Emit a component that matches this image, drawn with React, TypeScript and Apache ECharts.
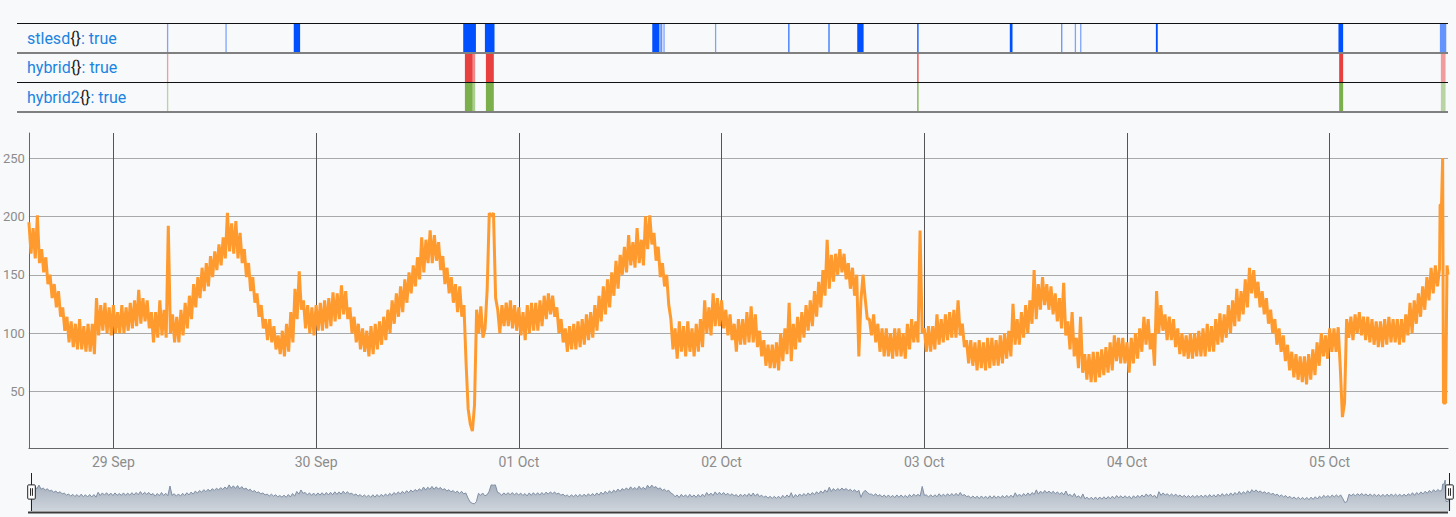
import React, { useEffect, useRef } from 'react';
import * as echarts from 'echarts';

// ---------- data ----------
const rangeStart = '2023-09-28 14:00';
const rangeEnd = '2023-10-05 14:00';
const stepMinutes = 30; // one reading pair per 30 minutes

// upper edge of the noisy band, read every 30 minutes from rangeStart
const trafficUpper = [
  195, 190, 201, 172, 165, 150, 142, 136, 122, 114,
  110, 108, 112, 106, 108, 108, 130, 124, 126, 122,
  124, 118, 124, 122, 126, 128, 137, 130, 128, 118,
  118, 128, 120, 192, 116, 114, 120, 126, 132, 142,
  148, 156, 160, 166, 170, 176, 182, 203, 194, 196,
  186, 172, 160, 148, 134, 124, 112, 112, 106, 98,
  102, 108, 118, 138, 153, 128, 124, 122, 124, 126,
  128, 130, 135, 134, 141, 136, 122, 114, 108, 104,
  102, 106, 108, 110, 114, 120, 128, 134, 140, 146,
  152, 158, 165, 182, 180, 188, 184, 178, 166, 156,
  148, 142, 140, 124, 35, 16, 120, 123, 104, 203,
  203, 120, 124, 126, 128, 124, 122, 118, 124, 126,
  126, 128, 132, 134, 132, 122, 112, 104, 106, 108,
  110, 112, 116, 118, 124, 132, 140, 146, 152, 162,
  167, 174, 184, 178, 190, 180, 200, 201, 186, 174,
  160, 150, 112, 104, 110, 106, 110, 104, 108, 112,
  128, 122, 134, 130, 128, 120, 116, 108, 112, 112,
  118, 123, 116, 102, 94, 90, 90, 92, 100, 104,
  126, 108, 114, 118, 124, 128, 136, 144, 154, 180,
  167, 168, 172, 168, 160, 156, 150, 128, 130, 112,
  116, 108, 104, 104, 100, 104, 104, 100, 108, 112,
  110, 188, 104, 106, 106, 116, 112, 116, 118, 120,
  128, 108, 94, 94, 92, 94, 92, 96, 96, 94,
  98, 100, 102, 125, 112, 118, 124, 128, 154, 142,
  148, 142, 140, 134, 130, 143, 110, 118, 96, 114,
  82, 82, 84, 84, 86, 88, 92, 98, 96, 96,
  92, 96, 100, 104, 114, 112, 100, 136, 124, 116,
  114, 112, 104, 100, 98, 100, 100, 102, 104, 108,
  106, 112, 117, 116, 124, 128, 138, 136, 146, 156,
  154, 144, 136, 130, 120, 112, 104, 98, 90, 84,
  82, 80, 80, 82, 86, 92, 100, 98, 104, 104,
  105, 28, 112, 114, 116, 118, 114, 114, 112, 110,
  110, 112, 114, 112, 112, 112, 116, 126, 128, 134,
  140, 148, 156, 158,
];

// lower edge of the band, read 15 minutes after each upper reading
const trafficLower = [
  168, 164, 160, 152, 142, 130, 122, 114, 102, 92,
  88, 86, 86, 84, 84, 82, 98, 102, 100, 98,
  100, 100, 100, 102, 104, 106, 108, 110, 104, 92,
  96, 98, 96, 100, 92, 92, 98, 104, 112, 122,
  130, 136, 140, 148, 154, 158, 164, 170, 168, 164,
  160, 148, 136, 126, 114, 104, 94, 92, 86, 82,
  80, 84, 92, 112, 120, 104, 100, 98, 102, 102,
  104, 106, 110, 112, 116, 112, 100, 92, 86, 84,
  80, 82, 86, 90, 94, 100, 108, 114, 118, 126,
  134, 140, 146, 152, 160, 160, 162, 154, 142, 134,
  126, 118, 114, 75, 22, 38, 100, 96, 137, 200,
  130, 100, 106, 106, 104, 102, 98, 94, 100, 102,
  102, 106, 112, 116, 114, 100, 92, 84, 86, 86,
  88, 90, 94, 96, 102, 110, 116, 122, 132, 138,
  150, 152, 158, 156, 160, 158, 172, 176, 162, 148,
  140, 124, 86, 78, 84, 80, 84, 80, 84, 88,
  100, 98, 106, 106, 104, 98, 94, 84, 90, 90,
  92, 92, 88, 80, 72, 70, 70, 68, 76, 82,
  76, 86, 92, 96, 102, 106, 114, 122, 132, 138,
  144, 150, 152, 146, 138, 132, 80, 150, 112, 98,
  92, 84, 80, 80, 78, 80, 80, 78, 86, 92,
  92, 100, 84, 84, 86, 90, 92, 94, 96, 96,
  98, 88, 74, 72, 68, 70, 68, 70, 72, 72,
  74, 78, 80, 90, 90, 96, 100, 108, 112, 120,
  124, 120, 116, 110, 104, 98, 86, 80, 70, 66,
  60, 58, 58, 62, 64, 66, 68, 76, 74, 74,
  66, 74, 78, 84, 90, 86, 72, 100, 102, 94,
  94, 88, 82, 80, 78, 78, 80, 80, 80, 84,
  84, 90, 92, 96, 100, 106, 110, 116, 122, 134,
  130, 122, 116, 108, 100, 90, 84, 76, 68, 62,
  60, 58, 56, 60, 64, 72, 80, 78, 84, 84,
  70, 40, 96, 94, 100, 98, 94, 92, 90, 88,
  88, 90, 92, 92, 90, 92, 98, 100, 108, 114,
  120, 128, 134, 140,
];

// last hour, finer readings (spike at the end)
const trafficTail: [string, number][] = [
  ['2023-10-05 13:00', 155],
  ['2023-10-05 13:04', 210],
  ['2023-10-05 13:14', 210],
  ['2023-10-05 13:22', 250],
  ['2023-10-05 13:28', 40],
  ['2023-10-05 13:43', 40],
  ['2023-10-05 13:53', 158],
  ['2023-10-05 14:00', 150],
];

const annotationNames = ['stlesd', 'hybrid', 'hybrid2'];
const annotationColors = ['#0050ff', '#e8403f', '#7aaf4b'];

// [start, end, opacity]
const stlesdAnomalies: [string, string, number][] = [
  ['2023-09-29 06:31', '2023-09-29 06:31', 0.5],
  ['2023-09-29 13:26', '2023-09-29 13:26', 0.5],
  ['2023-09-29 21:31', '2023-09-29 22:07', 1],
  ['2023-09-30 17:34', '2023-09-30 18:55', 1],
  ['2023-09-30 20:08', '2023-09-30 21:07', 1],
  ['2023-10-01 15:56', '2023-10-01 16:36', 1],
  ['2023-10-01 16:47', '2023-10-01 16:47', 0.6],
  ['2023-10-01 16:58', '2023-10-01 16:58', 0.6],
  ['2023-10-01 17:15', '2023-10-01 17:15', 0.5],
  ['2023-10-01 23:21', '2023-10-01 23:21', 0.5],
  ['2023-10-02 08:01', '2023-10-02 08:01', 0.8],
  ['2023-10-02 12:46', '2023-10-02 12:46', 0.8],
  ['2023-10-02 16:11', '2023-10-02 16:47', 1],
  ['2023-10-02 23:17', '2023-10-02 23:17', 1],
  ['2023-10-03 10:14', '2023-10-03 10:24', 1],
  ['2023-10-03 16:18', '2023-10-03 16:18', 0.6],
  ['2023-10-03 17:55', '2023-10-03 17:55', 0.5],
  ['2023-10-03 18:33', '2023-10-03 18:33', 0.5],
  ['2023-10-04 03:31', '2023-10-04 03:35', 1],
  ['2023-10-05 01:07', '2023-10-05 01:31', 1],
  ['2023-10-05 13:07', '2023-10-05 13:43', 0.6],
];

const hybridAnomalies: [string, string, number][] = [
  ['2023-09-29 06:31', '2023-09-29 06:31', 0.5],
  ['2023-09-30 17:46', '2023-09-30 18:30', 1],
  ['2023-09-30 18:30', '2023-09-30 18:50', 0.6],
  ['2023-09-30 20:15', '2023-09-30 21:02', 1],
  ['2023-10-02 23:17', '2023-10-02 23:17', 1],
  ['2023-10-05 01:12', '2023-10-05 01:31', 1],
  ['2023-10-05 13:14', '2023-10-05 13:38', 0.5],
];

const hybrid2Anomalies: [string, string, number][] = [
  ['2023-09-29 06:31', '2023-09-29 06:31', 0.5],
  ['2023-09-30 17:46', '2023-09-30 18:30', 1],
  ['2023-09-30 18:30', '2023-09-30 18:50', 0.6],
  ['2023-09-30 20:15', '2023-09-30 21:02', 1],
  ['2023-10-02 23:17', '2023-10-02 23:17', 1],
  ['2023-10-05 01:12', '2023-10-05 01:31', 1],
  ['2023-10-05 13:14', '2023-10-05 13:38', 0.5],
];

const monthNames = ['Jan', 'Feb', 'Mar', 'Apr', 'May', 'Jun', 'Jul', 'Aug', 'Sep', 'Oct', 'Nov', 'Dec'];

// ---------- helpers ----------
function toMs(s: string): number {
  const [d, t] = s.split(' ');
  const [y, m, dd] = d.split('-').map(Number);
  const [hh, mm] = t.split(':').map(Number);
  return new Date(y, m - 1, dd, hh, mm).getTime();
}

const BG = '#f8f9fa';
const FONT = 'Roboto';

export default function App() {
  const ref = useRef<HTMLDivElement>(null);

  useEffect(() => {
    if (!ref.current) return;
    const chart = echarts.init(ref.current, undefined, { renderer: 'svg' });

    const startMs = toMs(rangeStart);
    const endMs = toMs(rangeEnd);
    const stepMs = stepMinutes * 60000;
    const lineData: [number, number][] = [];
    trafficUpper.forEach((u, i) => {
      const t = startMs + i * stepMs;
      lineData.push([t, u]);
      lineData.push([t + stepMs / 2, trafficLower[i]]);
    });
    trafficTail.forEach(([t, v]) => lineData.push([toMs(t), v]));

    const rowsData = [stlesdAnomalies, hybridAnomalies, hybrid2Anomalies];

    const annotationSeries = rowsData.map((rows, r) => ({
      type: 'custom',
      name: annotationNames[r],
      xAxisIndex: 1,
      yAxisIndex: 1,
      encode: { x: [0, 1], y: 2 },
      silent: true,
      data: rows.map(([s, e, o]) => [toMs(s), toMs(e), r, o]),
      renderItem: (params: any, api: any) => {
        const row = api.value(2);
        const p1 = api.coord([api.value(0), row]);
        const p2 = api.coord([api.value(1), row + 1]);
        const w = Math.max(p2[0] - p1[0], 0) + 1.3;
        return {
          type: 'rect',
          shape: { x: p1[0] - 0.65, y: p1[1], width: w, height: p2[1] - p1[1] },
          style: { fill: annotationColors[r], opacity: api.value(3) },
        };
      },
    }));

    const rowTops = [23, 53, 82, 112];
    const labelTexts = annotationNames.map((name, r) => ({
      type: 'text',
      x: 27,
      y: (rowTops[r] + rowTops[r + 1]) / 2,
      z: 110,
      style: {
        text: `{n|${name}}{}{n|: true}`,
        fill: '#1b1b1b',
        fontSize: 16,
        fontFamily: FONT,
        verticalAlign: 'middle',
        rich: { n: { fill: '#1a84e2', fontSize: 16, fontFamily: FONT } },
      },
    }));

    const sepLines = [
      { y: 23.5, c: '#111', w: 1 },
      { y: 53, c: '#808080', w: 2 },
      { y: 82.5, c: '#111', w: 1 },
      { y: 112, c: '#808080', w: 2 },
    ].map((l) => ({
      type: 'line',
      z: 105,
      shape: { x1: 17, y1: l.y, x2: 1448, y2: l.y },
      style: { stroke: l.c, lineWidth: l.w },
    }));

    // dark strip along the bottom of the slider
    const sliderBase = {
      type: 'line',
      z: 105,
      shape: { x1: 28, y1: 512.5, x2: 1448, y2: 512.5 },
      style: { stroke: '#3c3c3c', lineWidth: 2 },
    };

    const shadowArea = new echarts.graphic.LinearGradient(0, 0, 0, 1, [
      { offset: 0, color: 'rgba(131,146,165,0.35)' },
      { offset: 1, color: 'rgba(131,146,165,0.75)' },
    ]);

    const option: any = {
      animation: false,
      backgroundColor: BG,
      textStyle: { fontFamily: FONT },
      grid: [
        { left: 28, right: 8, top: 133, bottom: 69 },
        { left: 28, right: 8, top: 23, height: 89 },
      ],
      xAxis: [
        {
          type: 'time',
          gridIndex: 0,
          min: startMs,
          max: endMs,
          minInterval: 86400000,
          maxInterval: 86400000,
          axisLine: { lineStyle: { color: '#666', width: 1 } },
          axisTick: { show: false },
          axisLabel: {
            color: '#8c8c8c',
            fontSize: 14,
            fontFamily: FONT,
            margin: 7,
            formatter: (v: number) => {
              const d = new Date(v);
              if (d.getHours() !== 0 || d.getMinutes() !== 0) return '';
              const dd = String(d.getDate()).padStart(2, '0');
              return `${dd} ${monthNames[d.getMonth()]}`;
            },
          },
          splitLine: {
            show: true,
            showMinLine: false,
            showMaxLine: false,
            lineStyle: { color: '#555', width: 1 },
          },
        },
        {
          type: 'time',
          gridIndex: 1,
          min: startMs,
          max: endMs,
          show: false,
        },
      ],
      yAxis: [
        {
          type: 'value',
          gridIndex: 0,
          min: 1.5,
          max: 271.5,
          splitNumber: 5,
          axisLine: { show: true, lineStyle: { color: '#666', width: 1 } },
          axisTick: { show: false },
          axisLabel: {
            color: '#8c8c8c',
            fontSize: 13,
            fontFamily: FONT,
            margin: 4,
            formatter: (v: number) => (v % 50 === 0 ? String(v) : ''),
          },
          splitLine: {
            show: true,
            showMinLine: false,
            showMaxLine: false,
            lineStyle: { color: '#a9a9a9', width: 1 },
          },
        },
        {
          type: 'value',
          gridIndex: 1,
          min: 0,
          max: 3,
          inverse: true,
          show: false,
        },
      ],
      dataZoom: [
        {
          type: 'slider',
          xAxisIndex: [0, 1],
          filterMode: 'none',
          start: 0,
          end: 100,
          left: 28,
          right: 8,
          top: 473,
          height: 38,
          borderColor: 'transparent',
          backgroundColor: 'transparent',
          fillerColor: 'rgba(0,0,0,0)',
          showDetail: false,
          brushSelect: false,
          dataBackground: {
            lineStyle: { color: '#7f8ea3', width: 1, opacity: 1 },
            areaStyle: { color: shadowArea, opacity: 1 },
          },
          selectedDataBackground: {
            lineStyle: { color: '#7f8ea3', width: 1, opacity: 1 },
            areaStyle: { color: shadowArea, opacity: 1 },
          },
          handleIcon:
            'path://M4,0V12.5M4,27.5V40M1,12.5h6a1,1,0,0,1,1,1v13a1,1,0,0,1-1,1h-6a1,1,0,0,1-1-1v-13a1,1,0,0,1,1-1ZM3,16V24M5,16V24',
          handleSize: '100%',
          handleStyle: { color: '#fff', borderColor: '#222', borderWidth: 1 },
          moveHandleSize: 0,
        },
      ],
      graphic: [...sepLines, sliderBase, ...labelTexts],
      series: [
        {
          type: 'line',
          name: 'value',
          xAxisIndex: 0,
          yAxisIndex: 0,
          data: lineData,
          showSymbol: false,
          symbol: 'none',
          lineStyle: { color: '#ff9a2e', width: 3 },
          itemStyle: { color: '#ff9a2e' },
          silent: true,
        },
        ...annotationSeries,
      ],
    };

    chart.setOption(option);
    return () => chart.dispose();
  }, []);

  return (
    <div
      ref={ref}
      style={{ position: 'absolute', left: 0, top: 0, width: 1456, height: 517, background: BG }}
    />
  );
}
